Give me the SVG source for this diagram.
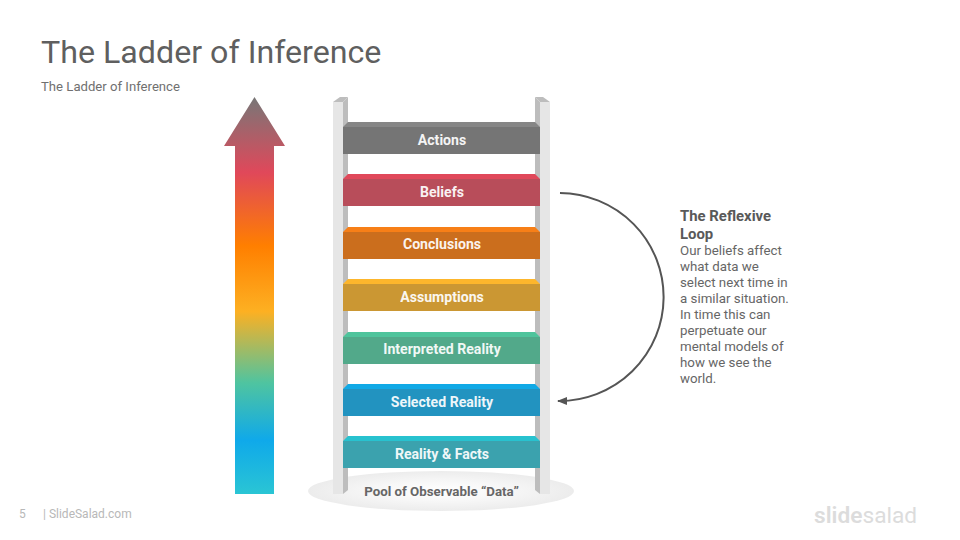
<svg xmlns="http://www.w3.org/2000/svg" width="960" height="540" viewBox="0 0 960 540">
<style>
text{font-family:Roboto,"Liberation Sans",sans-serif}
.rl{fill:#e6e6e6}.rd{fill:#bdbdbd}
.lab{font-size:14.100px;font-weight:700;fill:#fff;text-anchor:middle;opacity:.92}
.body{font-size:13.300px;fill:#666}
.head{font-size:14.900px;font-weight:700;fill:#595959}
.foot{font-size:12px;fill:#b8b8b8}
</style>
<defs>
<linearGradient id="rainbow" gradientUnits="userSpaceOnUse" x1="0" y1="97" x2="0" y2="494">
<stop offset="0" stop-color="#777777"/><stop offset=".19" stop-color="#e0485a"/><stop offset=".375" stop-color="#ff7f00"/><stop offset=".54" stop-color="#fdb022"/><stop offset=".72" stop-color="#4fc4a0"/><stop offset=".865" stop-color="#0fa9ea"/><stop offset="1" stop-color="#2ac5d4"/>
</linearGradient>
<radialGradient id="pool" cx=".5" cy=".5" r=".5"><stop offset="0" stop-color="#ffffff"/><stop offset=".5" stop-color="#f7f7f7"/><stop offset="1" stop-color="#ececec"/></radialGradient>
<marker id="ah" markerUnits="userSpaceOnUse" markerWidth="11" markerHeight="10" refX="9" refY="5" orient="auto"><path d="M0 1L10 5L0 9Z" fill="#555"/></marker>
</defs>
<rect width="960" height="540" fill="#fff"/>
<text x="41" y="63" font-size="32.200" fill="#5f5f5f">The Ladder of Inference</text>
<text x="41" y="91" font-size="13.150" fill="#707070">The Ladder of Inference</text>
<g id="up-arrow"><path d="M254.500 97L285 146H274V494H235V146H224Z" fill="url(#rainbow)"/></g>
<g id="pool-node"><ellipse cx="441" cy="491" rx="133" ry="20" fill="url(#pool)"/></g>
<g id="ladder-rails">
<path class="rd" d="M343 102L348 97V490L343 494Z"/><path class="rd" d="M333 102L340 97H348L343 102Z"/><rect class="rl" x="333" y="102" width="10" height="392"/>
<path class="rd" d="M540 102L535 97V490L540 494Z"/><path class="rd" d="M550 102L543 97H535L540 102Z"/><rect class="rl" x="540" y="102" width="10" height="392"/>
</g>
<g id="rung-actions"><path d="M348 122H535L540 127H343Z" fill="#868686"/><rect x="343" y="127" width="197" height="27" fill="#757575"/><text class="lab" x="442" y="145">Actions</text></g>
<g id="rung-beliefs"><path d="M348 174H535L540 179H343Z" fill="#e0485a"/><rect x="343" y="179" width="197" height="27" fill="#b84d5a"/><text class="lab" x="442" y="197">Beliefs</text></g>
<g id="rung-conclusions"><path d="M348 227H535L540 232H343Z" fill="#f77f17"/><rect x="343" y="232" width="197" height="27" fill="#cb6e1d"/><text class="lab" x="442" y="249">Conclusions</text></g>
<g id="rung-assumptions"><path d="M348 279H535L540 284H343Z" fill="#fdb62c"/><rect x="343" y="284" width="197" height="27" fill="#cb9733"/><text class="lab" x="442" y="302">Assumptions</text></g>
<g id="rung-interpreted"><path d="M348 332H535L540 337H343Z" fill="#4fc49c"/><rect x="343" y="337" width="197" height="27" fill="#52a98a"/><text class="lab" x="442" y="354">Interpreted Reality</text></g>
<g id="rung-selected"><path d="M348 384H535L540 389H343Z" fill="#11a9e6"/><rect x="343" y="389" width="197" height="27" fill="#2293c0"/><text class="lab" x="442" y="407">Selected Reality</text></g>
<g id="rung-facts"><path d="M348 436H535L540 441H343Z" fill="#28c2cf"/><rect x="343" y="441" width="197" height="27" fill="#3ba2ae"/><text class="lab" x="442" y="459">Reality &amp; Facts</text></g>
<text x="441.500" y="496" font-size="13.300" font-weight="700" fill="#666" text-anchor="middle">Pool of Observable “Data”</text>
<g id="connectors"><path d="M560 193A104.500 103.900 0 0 1 558 401" fill="none" stroke="#555" stroke-width="2" marker-end="url(#ah)"/></g>
<g id="reflexive-text">
<text class="head" x="680" y="221">The Reflexive</text>
<text class="head" x="680" y="239">Loop</text>
<text class="body" x="680" y="255">Our beliefs affect</text>
<text class="body" x="680" y="271">what data we</text>
<text class="body" x="680" y="287">select next time in</text>
<text class="body" x="680" y="303">a similar situation.</text>
<text class="body" x="680" y="319">In time this can</text>
<text class="body" x="680" y="335">perpetuate our</text>
<text class="body" x="680" y="351">mental models of</text>
<text class="body" x="680" y="367">how we see the</text>
<text class="body" x="680" y="383">world.</text>
</g>
<text class="foot" x="19" y="518">5</text>
<text class="foot" x="43" y="518">| SlideSalad.com</text>
<text x="814" y="523" font-size="22.700" font-family="Open Sans,Liberation Sans,sans-serif" fill="#dcdcdc"><tspan font-weight="600">slide</tspan><tspan>salad</tspan></text>
</svg>
